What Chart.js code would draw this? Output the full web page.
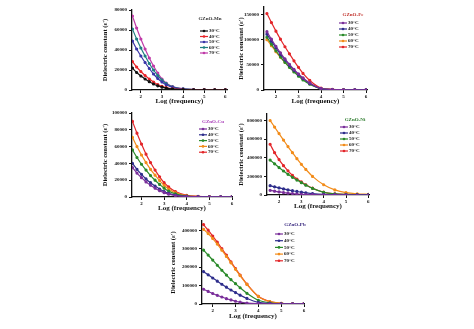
<!DOCTYPE html>
<html>
<head>
<meta charset="utf-8">
<script src="https://cdn.jsdelivr.net/npm/chart.js@4.4.1/dist/chart.umd.min.js"></script>
<style>
  body { margin: 0; background: #fff; width: 474px; height: 329px; position: relative; overflow: hidden; }
  canvas { position: absolute; }
</style>
</head>
<body>
<canvas id="mn" width="135" height="108" style="left:100px;top:0px"></canvas>
<canvas id="fe" width="138" height="108" style="left:236px;top:0px"></canvas>
<canvas id="cu" width="138" height="108" style="left:100px;top:108px"></canvas>
<canvas id="ni" width="138" height="108" style="left:236px;top:108px"></canvas>
<canvas id="pb" width="140" height="113" style="left:168px;top:216px"></canvas>
<script>
// log(frequency) sample positions shared by every panel
const logFreq = [1.6, 1.8, 2.0, 2.2, 2.4, 2.6, 2.8, 3.0, 3.2, 3.5, 4, 4.5, 5, 5.5, 6];
const temps = ['30°C', '40°C', '50°C', '60°C', '70°C'];

// GZnO-Mn
const mn30 = [22000, 17500, 14000, 11000, 8300, 6000, 4200, 2800, 1800, 900, 400, 200, 120, 80, 60];
const mn40 = [28500, 23000, 18500, 14500, 11000, 8000, 5500, 3700, 2400, 1200, 500, 250, 150, 100, 80];
const mn50 = [49000, 41000, 34000, 27500, 21500, 16000, 11500, 8000, 5200, 2600, 900, 400, 250, 150, 100];
const mn60 = [61000, 51000, 42000, 34000, 26500, 20000, 14500, 10000, 6500, 3200, 1100, 500, 300, 200, 100];
const mn70 = [74000, 62000, 51000, 41000, 32000, 24000, 17000, 11000, 7000, 3500, 1200, 500, 300, 200, 100];

// GZnO-Fe
const fe30 = [116000, 101000, 87000, 74000, 62000, 51000, 41000, 32000, 24000, 14000, 3000, 1000, 500, 300, 200];
const fe40 = [111000, 97000, 84000, 71000, 60000, 49000, 39500, 30500, 23000, 13000, 2800, 900, 450, 280, 200];
const fe50 = [105000, 91000, 78000, 66000, 55000, 45000, 36000, 27500, 20000, 11500, 2300, 800, 400, 250, 180];
const fe60 = [100000, 88000, 76000, 65000, 55000, 45500, 37000, 29000, 22000, 13000, 2800, 900, 450, 280, 200];
const fe70 = [152000, 134000, 117000, 101000, 86000, 72000, 58000, 45000, 33000, 19000, 4000, 1500, 800, 500, 400];

// GZnO-Cu
const cu30 = [35000, 28500, 23000, 18000, 14000, 10500, 7500, 5200, 3400, 1700, 600, 300, 180, 120, 100];
const cu40 = [40000, 33000, 27000, 21500, 17000, 13000, 9500, 6500, 4300, 2200, 700, 350, 200, 150, 100];
const cu50 = [56000, 47000, 39000, 32000, 25500, 20000, 15000, 10500, 7000, 3800, 1200, 500, 300, 200, 150];
const cu60 = [71000, 60000, 50000, 41000, 33000, 26000, 19500, 14000, 9500, 5000, 1500, 600, 350, 250, 200];
const cu70 = [90000, 76000, 63000, 51000, 41000, 32000, 24000, 17000, 12000, 6500, 2000, 800, 400, 300, 200];

// GZnO-Ni
const ni30 = [50000, 41000, 33000, 26000, 20000, 15000, 11000, 8000, 5500, 3000, 1000, 500, 300, 200, 150];
const ni40 = [100000, 88000, 76000, 65000, 55000, 46000, 38000, 30000, 24000, 16000, 7000, 3000, 1500, 1000, 800];
const ni50 = [375000, 335000, 295000, 258000, 222000, 190000, 160000, 132000, 106000, 71000, 29000, 12000, 6000, 4000, 3000];
const ni60 = [800000, 730000, 660000, 590000, 520000, 455000, 390000, 330000, 275000, 200000, 110000, 55000, 25000, 12000, 7000];
const ni70 = [545000, 455000, 380000, 315000, 260000, 212000, 172000, 140000, 110000, 73000, 30000, 12000, 6000, 4000, 3000];

// GZnO-Pb
const pb30 = [80000, 68000, 57000, 47000, 38000, 29000, 22000, 15000, 10000, 5000, 1500, 600, 300, 200, 150];
const pb40 = [175000, 158000, 141000, 124000, 107000, 91000, 76000, 62000, 48000, 30000, 9000, 3000, 1000, 600, 500];
const pb50 = [292000, 265000, 238000, 210000, 183000, 157000, 132000, 110000, 88000, 58000, 20000, 6000, 2000, 1200, 1000];
const pb60 = [405000, 382000, 355000, 325000, 292000, 258000, 223000, 188000, 154000, 106000, 41000, 13000, 4000, 2000, 1500];
const pb70 = [430000, 400000, 368000, 335000, 300000, 265000, 228000, 192000, 157000, 108000, 42000, 13000, 4000, 2000, 1500];

const mnColors = ['#111111', '#e8262a', '#3a35a8', '#1f7f80', '#c03aa8'];
const tempColors = ['#7a2f9a', '#2e2e8c', '#2a8a2a', '#f28c1a', '#e3262a'];

const FONT = '"Liberation Serif", "Times New Roman", serif';

// legend + sample name drawn inside the plot area, top right
const innerLegend = {
  id: 'innerLegend',
  afterDraw(chart, args, o) {
    if (!o || !o.title) return;
    const ctx = chart.ctx, a = chart.chartArea;
    ctx.save();
    ctx.font = 'bold 5px ' + FONT;
    ctx.textBaseline = 'middle';
    ctx.textAlign = 'center';
    ctx.fillStyle = o.titleColor;
    ctx.fillText(o.title, a.right + o.titleX, a.top + o.titleY);
    ctx.textAlign = 'left';
    chart.data.datasets.forEach((ds, i) => {
      const y = a.top + o.rowY + i * o.rowStep;
      const x = a.right + o.lineX;
      ctx.strokeStyle = ds.borderColor;
      ctx.fillStyle = ds.borderColor;
      ctx.lineWidth = 1.2;
      ctx.beginPath();
      ctx.moveTo(x, y);
      ctx.lineTo(x + 8, y);
      ctx.stroke();
      ctx.beginPath();
      ctx.arc(x + 4, y, 1.3, 0, Math.PI * 2);
      ctx.fill();
      ctx.fillStyle = '#111';
      ctx.fillText(ds.label, x + 9, y);
    });
    ctx.restore();
  }
};

function makePanel(id, series, colors, cfg) {
  return new Chart(id, {
    type: 'line',
    data: {
      datasets: series.map((vals, i) => ({
        label: temps[i],
        data: logFreq.map((x, j) => ({ x: x, y: vals[j] })),
        borderColor: colors[i],
        backgroundColor: colors[i],
        borderWidth: 1.2,
        pointRadius: 1,
        pointHoverRadius: 1,
        cubicInterpolationMode: 'monotone'
      }))
    },
    options: {
      responsive: false,
      animation: false,
      events: [],
      layout: { padding: cfg.padding },
      plugins: {
        legend: { display: false },
        tooltip: { enabled: false },
        innerLegend: cfg.legend
      },
      scales: {
        x: {
          type: 'linear',
          min: cfg.xMin,
          max: cfg.xMax,
          afterBuildTicks: s => { s.ticks = [2, 3, 4, 5, 6].map(v => ({ value: v })); },
          afterFit: s => { s.height = cfg.xHeight; },
          grid: { drawOnChartArea: false, color: '#111', tickLength: 3, tickWidth: 1 },
          border: { color: '#111', width: 1.3 },
          ticks: { color: '#111', padding: 1, font: { family: FONT, size: 5, weight: 'bold' }, maxRotation: 0 },
          title: { display: true, text: 'Log (frequency)', color: '#111', padding: 1, font: { family: FONT, size: 7, weight: 'bold' } }
        },
        y: {
          min: 0,
          max: cfg.yMax,
          afterBuildTicks: s => {
            const t = [];
            for (let v = 0; v <= cfg.yMax; v += cfg.yStep) t.push({ value: v });
            s.ticks = t;
          },
          afterFit: s => { s.width = cfg.yWidth; },
          grid: { drawOnChartArea: false, color: '#111', tickLength: 3, tickWidth: 1 },
          border: { color: '#111', width: 1.3 },
          ticks: { color: '#111', padding: 2, font: { family: FONT, size: 5, weight: 'bold' }, callback: v => String(v) },
          title: { display: true, text: "Dielectric constant (ε')", color: '#111', padding: 1, font: { family: FONT, size: 6.5, weight: 'bold' } }
        }
      }
    },
    plugins: [innerLegend]
  });
}

makePanel('mn', [mn30, mn40, mn50, mn60, mn70], mnColors, {
  padding: { top: 10, right: 8, left: 0, bottom: 2 },
  xMin: 1.58, xMax: 6.08, xHeight: 16, yWidth: 32, yMax: 80000, yStep: 20000,
  legend: { title: 'GZnO-Mn', titleColor: '#333', titleX: -17, titleY: 9, lineX: -27, rowY: 21, rowStep: 5.5 }
});

makePanel('fe', [fe30, fe40, fe50, fe60, fe70], tempColors, {
  padding: { top: 7, right: 7, left: 0, bottom: 2 },
  xMin: 1.47, xMax: 6.04, xHeight: 16, yWidth: 28, yMax: 165000, yStep: 50000,
  legend: { title: 'GZnO-Fe', titleColor: '#c0302a', titleX: -14, titleY: 8, lineX: -28, rowY: 16, rowStep: 6 }
});

makePanel('cu', [cu30, cu40, cu50, cu60, cu70], tempColors, {
  padding: { top: 5, right: 6, left: 0, bottom: 3 },
  xMin: 1.58, xMax: 6.0, xHeight: 16, yWidth: 32, yMax: 100000, yStep: 20000,
  legend: { title: 'GZnO-Cu', titleColor: '#a83cb8', titleX: -19, titleY: 9, lineX: -33, rowY: 16, rowStep: 5.8 }
});

makePanel('ni', [ni30, ni40, ni50, ni60, ni70], tempColors, {
  padding: { top: 6, right: 5, left: 0, bottom: 5 },
  xMin: 1.46, xMax: 6.03, xHeight: 16, yWidth: 31, yMax: 870000, yStep: 200000,
  legend: { title: 'GZnO-Ni', titleColor: '#2a7a2a', titleX: -14, titleY: 6, lineX: -29, rowY: 13, rowStep: 6 }
});

makePanel('pb', [pb30, pb40, pb50, pb60, pb70], tempColors, {
  padding: { top: 5, right: 4, left: 0, bottom: 8 },
  xMin: 1.53, xMax: 6.0, xHeight: 17, yWidth: 34, yMax: 450000, yStep: 100000,
  legend: { title: 'GZnO-Pb', titleColor: '#3a2a80', titleX: -9, titleY: 4, lineX: -29, rowY: 13, rowStep: 6.7 }
});
</script>
</body>
</html>
